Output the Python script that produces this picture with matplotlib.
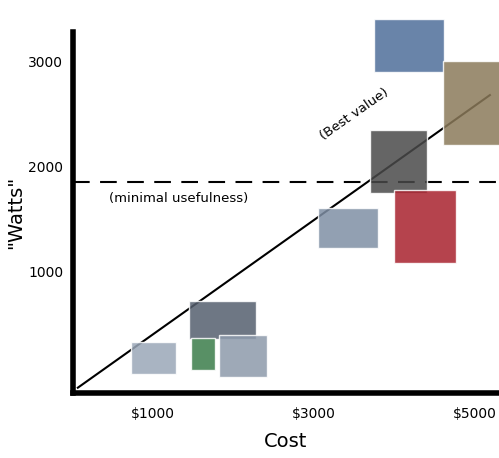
import matplotlib
matplotlib.use("Agg")
import matplotlib.pyplot as plt
from matplotlib.patches import Rectangle

xticks = [1000, 3000, 5000]
xticklabels = ["$1000", "$3000", "$5000"]
yticks = [1000, 2000, 3000]
yticklabels = ["1000", "2000", "3000"]
value_line_x = [62, 5187]
value_line_y = [-100, 2677]
min_useful = 1850
# photo placeholders: (x, y, w, h, color)
photos = [
    (720, 30, 560, 300, "#9aa7b8"),
    (1450, 360, 830, 360, "#555f6e"),
    (1470, 70, 300, 300, "#3b7d4a"),
    (1820, 0, 600, 400, "#8d9aab"),
    (3050, 1230, 750, 380, "#7f8fa5"),
    (3700, 1750, 700, 600, "#4a4a4a"),
    (3990, 1080, 780, 700, "#a8222e"),
    (3740, 2900, 880, 500, "#4f6f9a"),
    (4600, 2200, 800, 800, "#8b7a5a"),
]

fig = plt.figure(figsize=(4.99, 4.58), dpi=100)
ax = fig.add_axes([0.146, 0.142, 0.854, 0.788])
ax.set_xlim(0, 5300)
ax.set_ylim(-150, 3275)
for s in ["top", "right"]:
    ax.spines[s].set_visible(False)
for s in ["left", "bottom"]:
    ax.spines[s].set_linewidth(4)
ax.set_xticks(xticks)
ax.set_xticklabels(xticklabels, fontsize=10)
ax.set_yticks(yticks)
ax.set_yticklabels(yticklabels, fontsize=10)
ax.tick_params(axis="y", length=0, pad=7)
ax.tick_params(axis="x", length=0, pad=10)
ax.set_xlabel("Cost", fontsize=14, labelpad=8)
ax.set_ylabel('"Watts"', fontsize=14, labelpad=2)

ax.plot(value_line_x, value_line_y, color="black", lw=1.5, zorder=1)
ax.axhline(min_useful, color="black", lw=1.5, ls=(0, (8, 5)), zorder=1)
ax.text(450, 1660, "(minimal usefulness)", fontsize=9.5)
ax.text(3050, 2250, "(Best value)", fontsize=9.5, rotation=35)

for x, y, w, h, c in photos:
    ax.add_patch(Rectangle((x, y), w, h, facecolor=c, edgecolor="white", lw=1, alpha=0.85, zorder=2, clip_on=False))

fig.savefig("out.png", dpi=100)
